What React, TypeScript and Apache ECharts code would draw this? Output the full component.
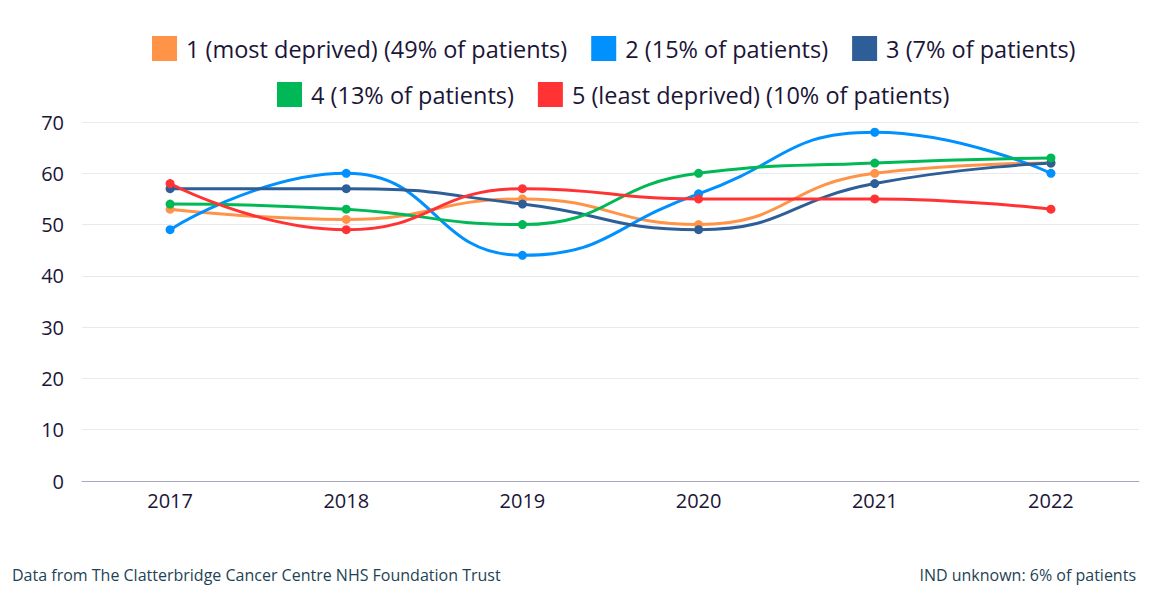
import React, { useEffect, useRef } from "react";
import * as echarts from "echarts";

const years = ["2017", "2018", "2019", "2020", "2021", "2022"];
const seriesNames = [
  "1 (most deprived) (49% of patients)",
  "2 (15% of patients)",
  "3 (7% of patients)",
  "4 (13% of patients)",
  "5 (least deprived) (10% of patients)",
];
const q1 = [53, 51, 55, 50, 60, 62];
const q2 = [49, 60, 44, 56, 68, 60];
const q3 = [57, 57, 54, 49, 58, 62];
const q4 = [54, 53, 50, 60, 62, 63];
const q5 = [58, 49, 57, 55, 55, 53];
const seriesValues = [q1, q2, q3, q4, q5];
const colors = ["#FF9448", "#0091FF", "#2E5E98", "#00B956", "#FF3333"];
const yTicks = [0, 10, 20, 30, 40, 50, 60, 70];

const FONT = "'Open Sans', 'Noto Sans', sans-serif";
const TEXT = "#1B1537";

export default function App() {
  const ref = useRef<HTMLDivElement>(null);
  useEffect(() => {
    if (!ref.current) return;
    const chart = echarts.init(ref.current, null, { renderer: "svg" });
    const legendCommon = {
      itemWidth: 25,
      itemHeight: 25,
      itemGap: 24,
      icon: "rect",
      textStyle: { fontSize: 23.5, color: TEXT, fontFamily: FONT, padding: [0, 0, 0, 4] },
    };
    chart.setOption({
      animation: false,
      color: colors,
      legend: [
        { ...legendCommon, left: 147, top: 31, data: seriesNames.slice(0, 3) },
        { ...legendCommon, left: 272, top: 77, data: seriesNames.slice(3) },
      ],
      grid: { left: 82, right: 12, top: 122, bottom: 119, containLabel: false },
      xAxis: {
        type: "category",
        data: years,
        boundaryGap: true,
        axisLine: { lineStyle: { color: "#A9A6BD", width: 1 } },
        axisTick: { show: false },
        axisLabel: { fontSize: 20, color: TEXT, fontFamily: FONT, margin: 9 },
      },
      yAxis: {
        type: "value",
        min: yTicks[0],
        max: yTicks[yTicks.length - 1],
        interval: 10,
        axisLine: { show: false },
        axisTick: { show: false },
        axisLabel: { fontSize: 20, color: TEXT, fontFamily: FONT, margin: 18 },
        splitLine: { lineStyle: { color: "#E8E8EE", width: 1 } },
      },
      series: seriesNames.map((name, i) => ({
        name,
        type: "line",
        data: seriesValues[i],
        smooth: true,
        symbol: "circle",
        symbolSize: 9,
        lineStyle: { width: 3, color: colors[i] },
        itemStyle: { color: colors[i] },
      })),
      graphic: [
        {
          type: "text",
          left: 12,
          top: 567,
          style: { text: "Data from The Clatterbridge Cancer Centre NHS Foundation Trust", fontSize: 16, fill: "#1D4354", fontFamily: FONT },
        },
        {
          type: "text",
          right: 15,
          top: 567,
          style: { text: "IND unknown: 6% of patients", fontSize: 16, fill: "#1D4354", fontFamily: FONT },
        },
      ],
    });
    return () => chart.dispose();
  }, []);
  return <div ref={ref} style={{ position: "absolute", left: 0, top: 0, width: 1151, height: 600 }} />;
}
